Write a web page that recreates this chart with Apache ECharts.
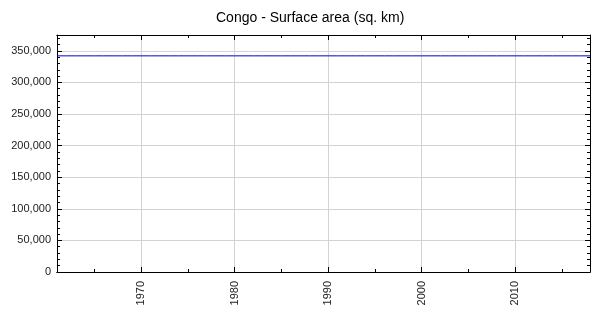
<!DOCTYPE html>
<html>
<head>
<meta charset="utf-8">
<script src="https://cdn.jsdelivr.net/npm/echarts@6/dist/echarts.min.js"></script>
<style>
  html, body { margin: 0; padding: 0; background: #fff; }
  #chart { width: 600px; height: 315px; }
</style>
</head>
<body>
<div id="chart"></div>
<script>
// data
var years = [1961, 1962, 1963, 1964, 1965, 1966, 1967, 1968, 1969, 1970,
  1971, 1972, 1973, 1974, 1975, 1976, 1977, 1978, 1979, 1980,
  1981, 1982, 1983, 1984, 1985, 1986, 1987, 1988, 1989, 1990,
  1991, 1992, 1993, 1994, 1995, 1996, 1997, 1998, 1999, 2000,
  2001, 2002, 2003, 2004, 2005, 2006, 2007, 2008, 2009, 2010,
  2011, 2012, 2013, 2014, 2015, 2016, 2017, 2018];
var area = [342000, 342000, 342000, 342000, 342000, 342000, 342000, 342000, 342000, 342000,
  342000, 342000, 342000, 342000, 342000, 342000, 342000, 342000, 342000, 342000,
  342000, 342000, 342000, 342000, 342000, 342000, 342000, 342000, 342000, 342000,
  342000, 342000, 342000, 342000, 342000, 342000, 342000, 342000, 342000, 342000,
  342000, 342000, 342000, 342000, 342000, 342000, 342000, 342000, 342000, 342000,
  342000, 342000, 342000, 342000, 342000, 342000, 342000, 342000];
var xMajor = [1970, 1980, 1990, 2000, 2010];
var xMinor = [1965, 1975, 1985, 1995, 2005, 2015];

var chart = echarts.init(document.getElementById('chart'));

var fontFam = 'Liberation Sans, Arial, sans-serif';

// x axis builder: major / minor, bottom / top
function xAx(pos, ticks, len, withLabel, withSplit) {
	return {
		type: 'value',
		position: pos,
		min: 1961,
		max: 2018,
		axisLine: { show: true, onZero: false, lineStyle: { color: '#000', width: 1 } },
		axisTick: { show: true, inside: true, length: len, customValues: ticks, lineStyle: { color: '#000' } },
		axisLabel: {
			show: withLabel,
			customValues: ticks,
			rotate: 90,
			margin: 9,
			color: '#222',
			fontSize: 11,
			fontFamily: fontFam,
			formatter: function (v) { return String(v); }
		},
		splitLine: { show: withSplit, lineStyle: { color: '#d3d3d3', width: 1 } }
	};
}

function yAx(pos, withLabel, withSplit) {
	return {
		type: 'value',
		position: pos,
		min: 0,
		max: 375000,
		interval: 50000,
		axisLine: { show: true, lineStyle: { color: '#000', width: 1 } },
		axisTick: { show: true, inside: true, length: 5, lineStyle: { color: '#000' } },
		minorTick: { show: true, splitNumber: 5, length: 3, lineStyle: { color: '#000' } },
		axisLabel: {
			show: withLabel,
			margin: 6,
			color: '#222',
			fontSize: 11,
			fontFamily: fontFam,
			showMaxLabel: false,
			formatter: function (v) { return echarts.format.addCommas(v); }
		},
		splitLine: { show: withSplit, lineStyle: { color: '#d3d3d3', width: 1 } }
	};
}

var option = {
	animation: false,
	backgroundColor: '#fff',
	title: {
		text: 'Congo - Surface area (sq. km)',
		left: 216,
		top: 11,
		padding: 0,
		textStyle: { fontFamily: fontFam, fontSize: 14, fontWeight: 'normal', color: '#000' }
	},
	grid: { left: 57, right: 10, top: 35, bottom: 43, containLabel: false },
	xAxis: [
		xAx('bottom', xMajor, 5, true, true),
		xAx('bottom', xMinor, 3, false, false),
		xAx('top', xMajor, 5, false, false),
		xAx('top', xMinor, 3, false, false)
	],
	yAxis: [
		yAx('left', true, true),
		yAx('right', false, false)
	],
	series: [{
		type: 'line',
		xAxisIndex: 0,
		yAxisIndex: 0,
		data: years.map(function (y, i) { return [y, area[i]]; }),
		showSymbol: false,
		lineStyle: { color: '#0000cc', width: 1 },
		itemStyle: { color: '#0000cc' }
	}]
};

chart.setOption(option);
</script>
</body>
</html>
